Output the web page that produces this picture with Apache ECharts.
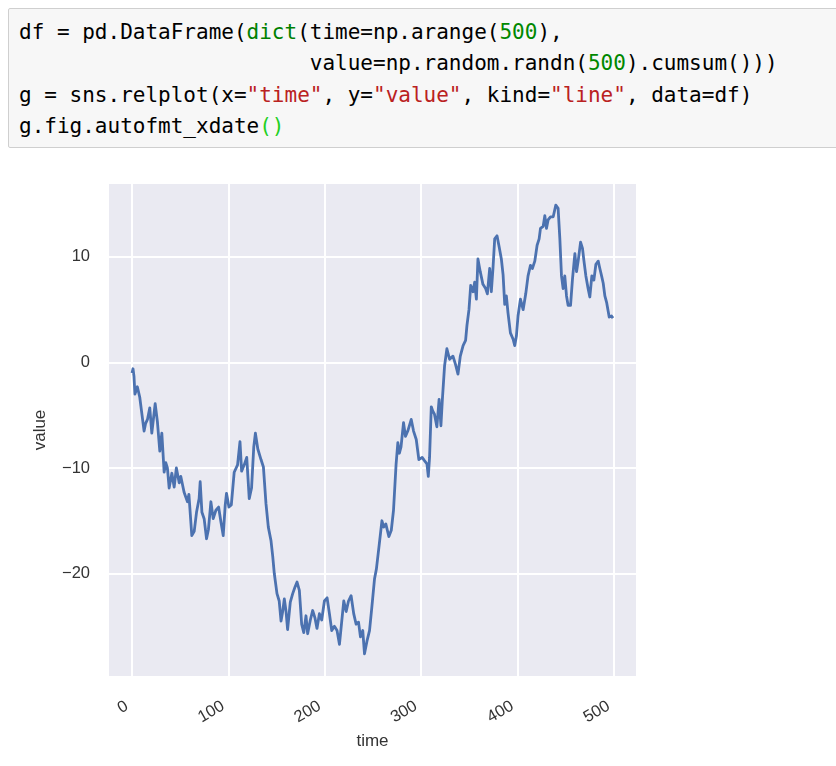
<!DOCTYPE html>
<html>
<head>
<meta charset="utf-8">
<script src="https://cdn.jsdelivr.net/npm/echarts@6/dist/echarts.min.js"></script>
<style>
  html, body { margin: 0; padding: 0; background: #ffffff; width: 836px; height: 766px; overflow: hidden; }
  #chart { position: absolute; left: 0; top: 0; width: 836px; height: 766px; }
  #code {
    position: absolute; left: 8px; top: 8px; width: 840px; height: 140px;
    box-sizing: border-box; background: #f7f7f7; border: 1px solid #cfcfcf; border-radius: 2px;
    padding: 8px 0 0 10px; font-family: "DejaVu Sans Mono", monospace; font-size: 21px;
    line-height: 31.4px; color: #000; white-space: pre; z-index: 2;
  }
  .k { color: #008000; }
  .n { color: #008800; }
  .s { color: #ba2121; }
  .b { color: #1fd01f; }
</style>
</head>
<body>
<div id="code">df = pd.DataFrame(<span class="k">dict</span>(time=np.arange(<span class="n">500</span>),
                       value=np.random.randn(<span class="n">500</span>).cumsum()))
g = sns.relplot(x=<span class="s">"time"</span>, y=<span class="s">"value"</span>, kind=<span class="s">"line"</span>, data=df)
g.fig.autofmt_xdate<span class="b">()</span></div>
<div id="chart"></div>
<script>
// values
var times = [0,1,2,3,5.5,8,12.5,14,16,18.4,20.5,22,24,26.3,28.8,30.9,33.3,35,36.7,38.5,41.3,43.7,46,48.9,50.6,54,57.5,59,62,64.5,66.9,69.6,70.7,72.5,74.8,77.3,79.3,81.8,84.2,87,89.8,92.2,94.6,96.7,98,100.5,103,106,109.5,112,113.7,116.4,119,121.6,124,126.3,128,130.5,133.8,136.3,139,141.4,144.2,146,147.6,150.4,152.7,154.6,156.3,158,159.8,161.4,164.2,166.7,169,171.2,173.6,176,178.2,180.5,182.2,185,187.4,189.8,191.9,194.4,196.8,199.6,202.4,204.8,207.2,210,212.7,215.2,217.6,219.7,222.2,224.6,227.3,230,232.5,235,237,239.4,241.2,244,246.4,248.8,251.6,253.5,256.3,259.3,261.2,263.3,266.5,269,271.3,274,275.8,277.4,279.1,281.7,283.7,286.1,289.7,292.1,294.9,297.6,301,303.4,306,307.4,308.7,310.5,312,313.8,316.3,318.6,320.5,322,324.3,326.7,329.5,333,335.7,338.2,340.6,343.5,346.1,347.5,349.6,351.4,353.8,355.5,357.3,358.9,361.3,364.1,366.9,368.7,371.1,372.8,374.5,376.3,378.7,380.8,383.2,385,386.7,388.4,390.1,392.6,395.4,397.1,398.8,400.5,403,405.8,408.5,410.9,413.4,415.4,417.9,420.3,422.4,423.8,426.6,428.3,430,431.7,434.2,437,439.7,442.1,443.9,445.6,447.3,449,450.8,452.5,455,457,459.5,461.2,462.9,465.4,467.4,468.8,470.9,473.2,475,477.1,479.2,481.3,483.7,485.4,487.2,488.9,490.6,492.4,495.1,497.5,499];
var values = [-1.0,-0.6,-1.3,-3.0,-2.3,-3.3,-6.5,-5.8,-5.4,-4.3,-6.7,-5.5,-3.9,-5.6,-8.4,-6.7,-10.4,-9.5,-10.0,-11.9,-10.5,-11.8,-10.0,-11.4,-10.8,-12.3,-13.2,-12.5,-16.4,-16.0,-14.2,-12.9,-11.3,-14.2,-14.8,-16.7,-15.8,-13.2,-14.8,-14.0,-13.7,-15.1,-16.4,-13.5,-12.4,-13.7,-13.5,-10.4,-9.7,-7.5,-10.3,-9.7,-9.0,-12.9,-11.9,-8.0,-6.7,-8.2,-9.2,-9.9,-13.4,-15.6,-16.9,-18.4,-20.0,-21.9,-22.6,-24.5,-23.6,-22.4,-23.6,-25.3,-22.7,-21.9,-21.3,-20.8,-21.6,-24.8,-25.6,-24.0,-25.7,-24.4,-23.5,-24.2,-25.2,-23.8,-24.4,-22.6,-22.3,-23.8,-25.4,-25.0,-25.4,-26.7,-24.5,-22.6,-23.6,-22.6,-22.1,-23.8,-24.8,-24.6,-26.0,-25.4,-27.6,-26.3,-25.4,-23.2,-20.5,-19.6,-17.4,-15.0,-15.6,-15.3,-16.5,-15.9,-14.0,-9.6,-7.6,-8.6,-8.0,-5.7,-7.0,-6.5,-5.4,-6.5,-7.3,-9.2,-9.0,-9.3,-9.6,-10.8,-9.0,-4.2,-4.6,-4.9,-6.1,-3.5,-6.0,-3.5,-0.3,1.3,0.3,0.6,-0.2,-1.1,0.6,1.6,2.1,3.5,5.0,7.3,6.7,7.6,6.0,9.8,8.6,7.4,7.0,6.5,8.9,6.7,8.9,11.7,12.0,11.0,9.8,8.3,5.5,6.3,4.7,2.8,2.2,1.6,2.5,4.4,6.0,5.0,6.5,8.2,9.2,8.9,9.6,11.1,11.7,12.7,12.9,13.9,12.7,13.5,13.8,13.8,14.9,14.6,11.7,8.2,7.0,8.2,6.3,5.4,5.4,7.9,10.3,8.6,9.6,11.4,10.8,9.7,8.2,7.0,6.2,8.2,7.8,9.3,9.6,8.9,8.2,7.5,6.3,5.7,4.3,4.4,4.2];
var xName = 'time';
var yName = 'value';

var points = times.map(function (t, i) { return [t, values[i]]; });
var chart = echarts.init(document.getElementById('chart'), null, { renderer: 'canvas' });
var textColor = '#333333';
var font = 'Liberation Sans, Arial, sans-serif';
chart.setOption({
  animation: false,
  backgroundColor: '#ffffff',
  grid: { left: 108, top: 183, width: 529, height: 494, show: true, backgroundColor: '#eaeaf2', borderWidth: 0, containLabel: false },
  xAxis: {
    type: 'value', min: -24.95, max: 523.95, minInterval: 100, maxInterval: 100,
    name: xName, nameLocation: 'middle', nameGap: 56,
    nameTextStyle: { color: textColor, fontSize: 17, fontFamily: font },
    axisLine: { show: false }, axisTick: { show: false },
    splitLine: { show: true, lineStyle: { color: '#ffffff', width: 2 } },
    axisLabel: { rotate: 30, margin: 25, color: textColor, fontSize: 16.5, fontFamily: font, showMinLabel: false, showMaxLabel: false, padding: [0, 6, 0, 0] }
  },
  yAxis: {
    type: 'value', min: -29.8, max: 17.0, minInterval: 10, maxInterval: 10,
    name: yName, nameLocation: 'middle', nameGap: 59, nameRotate: 90,
    nameTextStyle: { color: textColor, fontSize: 17, fontFamily: font },
    axisLine: { show: false }, axisTick: { show: false },
    splitLine: { show: true, lineStyle: { color: '#ffffff', width: 2 } },
    axisLabel: { margin: 18, color: textColor, fontSize: 16.5, fontFamily: font, showMinLabel: false, showMaxLabel: false,
      formatter: function (v) { return v < 0 ? '\u2212' + Math.abs(v) : String(v); } }
  },
  series: [{
    type: 'line', data: points, showSymbol: false, symbol: 'none', smooth: false,
    lineStyle: { color: '#4c72b0', width: 2.8, join: 'round' }
  }]
});
</script>
</body>
</html>
